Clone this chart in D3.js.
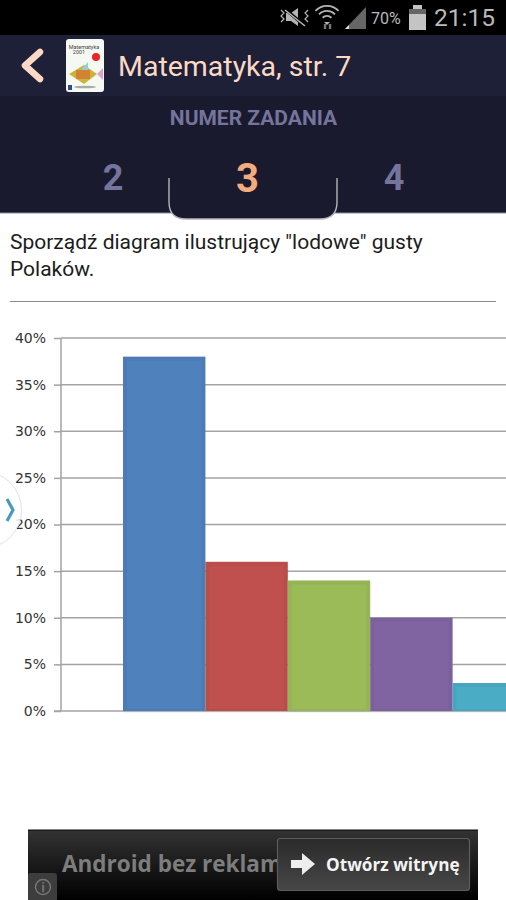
<!DOCTYPE html>
<html><head><meta charset="utf-8">
<script src="https://cdnjs.cloudflare.com/ajax/libs/d3/7.8.5/d3.min.js"></script>
<style>html,body{margin:0;padding:0;background:#fff;overflow:hidden}svg{display:block}text{font-family:Roboto,sans-serif}</style>
</head><body><svg id="c" width="506" height="900"></svg>
<script>
const categories = ["Seria 1","Seria 2","Seria 3","Seria 4","Seria 5"];
const values = [38,16,14,10,3];
const colors = ["#4f81bd","#c0504d","#9bbb59","#8064a2","#4bacc6"];
const ticks = [0,5,10,15,20,25,30,35,40];

const svg = d3.select("#c");
const rect=(x,y,w,h,f,g=svg)=>g.append("rect").attr("x",x).attr("y",y).attr("width",w).attr("height",h).attr("fill",f);
const text=(s,x,y,size,f,w=400,a="start",fam=null)=>{const t=svg.append("text").text(s).attr("x",x).attr("y",y).attr("font-size",size).attr("fill",f).attr("font-weight",w).attr("text-anchor",a);if(fam)t.style("font-family",fam);return t;};

// status bar
rect(0,0,506,35,"#000");
const sb=svg.append("g");
sb.append("path").attr("d","M286 13h5l7-5v18l-7-5h-5z").attr("fill","#b4b4b4");
sb.append("path").attr("d","M285 9l20 17").attr("stroke","#000").attr("stroke-width",3);
sb.append("path").attr("d","M285 10l20 16").attr("stroke","#b4b4b4").attr("stroke-width",1.6);
sb.append("path").attr("d","M281 10l3 3-3 3 3 3-3 3 M308 10l-3 3 3 3-3 3 3 3").attr("fill","none").attr("stroke","#b4b4b4").attr("stroke-width",1.2);
[17,12,7].forEach(r=>sb.append("path").attr("d",d3.arc()({innerRadius:r-1.8,outerRadius:r,startAngle:-0.8,endAngle:0.8})).attr("transform","translate(327,22)").attr("fill","#b4b4b4"));
sb.append("path").attr("d","M324 22h6l-3 3z").attr("fill","#b4b4b4");
sb.append("path").attr("d","M325 24v5M330 24v5").attr("stroke","#777").attr("stroke-width",2.4);
sb.append("path").attr("d","M345 29L366 7v22z").attr("fill","#666");
sb.append("path").attr("d","M345 29l4-4v4z").attr("fill","#ddd");
text("70%",371,24,16,"#b9b9b9");
rect(409,9,17,21,"#c4c4c4"); rect(413,5,9,4,"#c4c4c4"); rect(409,9,17,5,"#666");
text("21:15",434,26,24.5,"#b9b9b9");

// title bar
rect(0,35,506,61,"#1e2038");
svg.append("path").attr("d","M40 52L25 65.5 40 79").attr("fill","none").attr("stroke","#fcd9c4").attr("stroke-width",6.5).attr("stroke-linecap","round").attr("stroke-linejoin","round");
const ic=svg.append("g");
ic.append("rect").attr("x",66).attr("y",39).attr("width",38).attr("height",53).attr("rx",3).attr("fill","#f6f8f2");
ic.append("text").text("Matematyka").attr("x",84).attr("y",49).attr("font-size",5.5).attr("fill","#444").attr("text-anchor","middle");
ic.append("text").text("2001").attr("x",79).attr("y",54).attr("font-size",5.5).attr("fill","#444").attr("text-anchor","middle");
ic.append("circle").attr("cx",96).attr("cy",57).attr("r",4).attr("fill","#e8262a");
ic.append("path").attr("d","M69 74L84 65 97 74 84 84z").attr("fill","#c9b53a");
ic.append("path").attr("d","M76 70L90 70 90 79 76 79z").attr("fill","#d9602a").attr("opacity",.6);
ic.append("path").attr("d","M81 70L88 62 88 70z").attr("fill","#8fd0dc");
ic.append("path").attr("d","M97 74l6-6v12z").attr("fill","#d7a6d0");
ic.append("rect").attr("x",68).attr("y",85).attr("width",4).attr("height",5).attr("fill","#2b4a90");
ic.append("ellipse").attr("cx",85).attr("cy",87).attr("rx",11).attr("ry",1.3).attr("fill","#aaa");
text("Matematyka, str. 7",118,76,28.5,"#fcd9c4");

// tabs
rect(0,96,506,117,"#1a1a2e");
rect(0,212.5,506,1,"#8a8a98");
svg.append("path").attr("d","M169 177v25q0 17 17 17h134q17 0 17-17v-25").attr("fill","#1a1a2e").attr("stroke","#b5b5bd").attr("stroke-width",1.4);
svg.append("rect").attr("x",168).attr("y",160).attr("width",170).attr("height",18).attr("fill","#1a1a2e");
text("NUMER ZADANIA",253.5,125,21,"#74749c",700,"middle");
text("2",113,190,36,"#74749c",700,"middle");
text("3",247.5,192,40,"#f4ab7d",700,"middle");
text("4",394,190,36,"#74749c",700,"middle");

// question
text("Sporządź diagram ilustrujący \"lodowe\" gusty",10,249,21,"#1c1c1c");
text("Polaków.",10,276,21,"#1c1c1c");
rect(10,301,486,1,"#8a8a8a");

// chart
const y=d3.scaleLinear().domain([0,40]).range([711,338]);
const x=d3.scaleBand().domain(categories).range([123,535]);
const plot={l:61,r:506};
svg.append("g").selectAll("line").data(ticks.filter(t=>t>0)).join("line")
  .attr("x1",plot.l).attr("x2",plot.r).attr("y1",d=>y(d)).attr("y2",d=>y(d))
  .attr("stroke","#a3a3a3").attr("stroke-width",1.5);
const axis=svg.append("g").attr("transform",`translate(${plot.l},0)`)
  .call(d3.axisLeft(y).tickValues(ticks).tickFormat(d=>d+"%").tickSize(7).tickPadding(8));
axis.select(".domain").attr("stroke","#a3a3a3").attr("stroke-width",1.5).attr("d",`M0,${y(40)}V${y(0)}`);
axis.selectAll(".tick line").attr("stroke","#a3a3a3").attr("stroke-width",1.5);
axis.selectAll(".tick text").attr("fill","#333").attr("font-size",14).style("font-family","'DejaVu Sans',sans-serif").attr("dy","0.32em");
svg.append("line").attr("x1",54).attr("x2",plot.r).attr("y1",y(0)).attr("y2",y(0)).attr("stroke","#a3a3a3").attr("stroke-width",1.5);
svg.append("g").selectAll("rect").data(values).join("rect")
  .attr("x",(d,i)=>x(categories[i])).attr("width",x.bandwidth())
  .attr("y",d=>y(d)).attr("height",d=>y(0)-y(d)).attr("fill",(d,i)=>colors[i]);
// faint darker inner band of the bars
svg.append("g").selectAll("rect").data(values).join("rect")
  .attr("x",(d,i)=>x(categories[i])+2).attr("width",x.bandwidth()-4)
  .attr("y",d=>y(d)+2).attr("height",d=>y(0)-y(d)-2).attr("fill","none")
  .attr("stroke","#000").attr("stroke-opacity",.035).attr("stroke-width",4);

// side handle
svg.append("circle").attr("cx",-17).attr("cy",510).attr("r",38.5).attr("fill","#fff").attr("fill-opacity",.85).attr("stroke","#e2e2e2");
svg.append("path").attr("d","M7 499l6 11-6 11").attr("fill","none").attr("stroke","#4a9ac0").attr("stroke-width",3.2);

// ad
const defs=svg.append("defs");
const g1=defs.append("linearGradient").attr("id","ad").attr("x1",0).attr("x2",0).attr("y1",0).attr("y2",1);
g1.append("stop").attr("offset",0).attr("stop-color","#333");g1.append("stop").attr("offset",1).attr("stop-color","#000");
const g2=defs.append("linearGradient").attr("id","btn").attr("x1",0).attr("x2",0).attr("y1",0).attr("y2",1);
g2.append("stop").attr("offset",0).attr("stop-color","#2a2a2a");g2.append("stop").attr("offset",1).attr("stop-color","#474747");
rect(28,830,450,70,"url(#ad)");
rect(28,829.5,450,1.2,"#111");
text("Android bez reklam",62,872,22.5,"#7d7d7d",700,"start","'Open Sans',sans-serif");
svg.append("rect").attr("x",277.5).attr("y",838.5).attr("width",192).attr("height",52).attr("rx",3).attr("fill","#333");
svg.append("rect").attr("x",277.5).attr("y",838.5).attr("width",192).attr("height",52).attr("rx",3).attr("fill","url(#btn)").attr("stroke","#5c5c5c").attr("stroke-width",1.2);
svg.append("path").attr("d","M291 860h11v-7l13 11-13 11v-7h-11z").attr("fill","#eee");
text("Otwórz witrynę",326,871,17.2,"#f4f4f4",700,"start","'Open Sans',sans-serif");
svg.append("path").attr("d","M28 900v-25q0-2 2-2h24q3 0 3 3v24z").attr("fill","#3d3d3d");
svg.append("circle").attr("cx",43).attr("cy",887).attr("r",7.5).attr("fill","none").attr("stroke","#777").attr("stroke-width",1.4);
text("i",43,892,12,"#777",700,"middle");
</script></body></html>
